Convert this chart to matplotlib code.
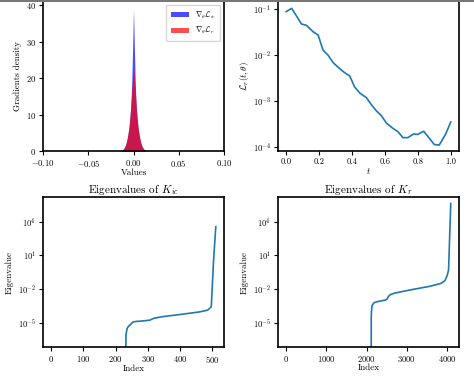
import matplotlib
matplotlib.use('Agg')
import matplotlib.pyplot as plt
import numpy as np
from matplotlib.patches import Rectangle

plt.rcParams['font.family'] = ['cmr10', 'DejaVu Serif']
plt.rcParams['mathtext.fontset'] = 'cm'
plt.rcParams['axes.formatter.use_mathtext'] = True
plt.rcParams['axes.unicode_minus'] = True

# gradient histograms (bin centres + densities)
hist_centers = np.arange(-15, 16) * 0.001
grad_ic = [0.05, 0.1, 0.2, 0.35, 0.6, 1.0, 1.5, 2.3, 3.4, 4.8, 6.5, 9.0, 12.5, 18.0, 28.0,
           39.0,
           28.0, 18.0, 12.5, 9.0, 6.5, 4.8, 3.4, 2.3, 1.5, 1.0, 0.6, 0.35, 0.2, 0.1, 0.05]
grad_r = [0.05, 0.1, 0.2, 0.35, 0.6, 1.0, 1.5, 2.3, 3.4, 4.8, 6.5, 9.0, 12.0, 16.0, 20.0,
          23.0,
          20.0, 16.0, 12.0, 9.0, 6.5, 4.8, 3.4, 2.3, 1.5, 1.0, 0.6, 0.35, 0.2, 0.1, 0.05]

# residual loss over time
t_vals = [0.0, 0.033, 0.063, 0.093, 0.123, 0.164, 0.194, 0.224, 0.255, 0.285, 0.325,
          0.356, 0.386, 0.416, 0.447, 0.487, 0.517, 0.548, 0.578, 0.608, 0.649, 0.679,
          0.709, 0.739, 0.774, 0.80, 0.835, 0.867, 0.90, 0.93, 0.968, 1.0]
loss_log = [-1.06, -0.99, -1.16, -1.33, -1.36, -1.50, -1.57, -1.90, -2.01, -2.17, -2.30,
            -2.39, -2.46, -2.70, -2.83, -2.93, -3.08, -3.22, -3.32, -3.48, -3.60, -3.67,
            -3.80, -3.80, -3.72, -3.73, -3.66, -3.80, -3.95, -3.96, -3.73, -3.46]

# eigenvalue spectra (index, log10 eigenvalue)
ic_idx = [0, 231, 232, 234, 236, 240, 245, 250, 255, 265, 276, 306, 317, 342, 409, 461, 486, 497, 504, 511]
ic_log = [-12, -12, -6.1, -5.75, -5.5, -5.32, -5.2, -5.05, -4.93, -4.89, -4.87, -4.78, -4.63, -4.48,
          -4.24, -4.04, -3.88, -3.59, 0.5, 3.55]
r_idx = [0, 2114, 2116, 2120, 2130, 2141, 2170, 2198, 2300, 2405, 2470, 2504, 2540, 2570, 2640, 2735,
         3148, 3561, 3851, 3950, 3975, 4010, 4040, 4095]
r_log = [-12, -12, -4.6, -4.05, -3.65, -3.45, -3.3, -3.2, -3.1, -3.03, -2.98, -2.91, -2.7, -2.55, -2.43,
         -2.34, -2.04, -1.77, -1.5, -1.25, -1.05, -0.75, -0.3, 5.62]

fig = plt.figure(figsize=(4.74, 3.86), dpi=100)
W, H = 474.0, 386.0

def box(l, t, r, b):
    return [l / W, 1 - b / H, (r - l) / W, (b - t) / H]

ax1 = fig.add_axes(box(43, 1, 224, 151))
ax2 = fig.add_axes(box(278, 1, 459, 151))
ax3 = fig.add_axes(box(43, 197, 224, 347))
ax4 = fig.add_axes(box(278, 197, 459, 347))

fs_tick = 6.1
fs_lab = 6.5
fs_title = 8.0

ax1.fill_between(hist_centers, grad_ic, color='blue', alpha=0.7, lw=0,
                 label=r'$\nabla_\theta \mathcal{L}_{ic}$')
ax1.fill_between(hist_centers, grad_r, color='red', alpha=0.7, lw=0,
                 label=r'$\nabla_\theta \mathcal{L}_{r}$')
ax1.set_xlim(-0.1, 0.1)
ax1.set_ylim(0, 41.1)
ax1.set_xticks([-0.1, -0.05, 0.0, 0.05, 0.1])
ax1.set_xticklabels(['$-0.10$', '$-0.05$', '$0.00$', '$0.05$', '$0.10$'])
ax1.set_yticks([0, 10, 20, 30, 40])
ax1.set_xlabel('Values', fontsize=fs_lab, labelpad=-0.5)
ax1.set_ylabel('Gradients density', fontsize=fs_lab, labelpad=3)
ax1.legend(loc='upper right', fontsize=5.4, handlelength=2.4, borderpad=0.6,
           labelspacing=0.6, fancybox=True, framealpha=0.8)

ax2.semilogy(t_vals, 10 ** np.array(loss_log), color='#1f77b4', lw=1.2)
ax2.set_xlim(-0.05, 1.05)
ax2.set_ylim(10 ** -4.09, 10 ** -0.83)
ax2.set_xticks([0.0, 0.2, 0.4, 0.6, 0.8, 1.0])
ax2.set_xticklabels(['0.0', '0.2', '0.4', '0.6', '0.8', '1.0'])
ax2.set_xlabel('$t$', fontsize=fs_lab, labelpad=0)
ax2.set_ylabel(r'$\mathcal{L}_r(t,\theta)$', fontsize=fs_lab, labelpad=1)

ax3.semilogy(ic_idx, 10 ** np.array(ic_log, dtype=float), color='#1f77b4', lw=1.2)
ax3.set_xlim(-25.5, 536.5)
ax3.set_ylim(10 ** -7.17, 10 ** 6.2)
ax3.set_yticks([1e-5, 1e-2, 1e1, 1e4])
ax3.set_xticks([0, 100, 200, 300, 400, 500])
ax3.set_title('Eigenvalues of $K_{ic}$', fontsize=fs_title, pad=3)
ax3.set_xlabel('Index', fontsize=fs_lab, labelpad=-0.5)
ax3.set_ylabel('Eigenvalue', fontsize=fs_lab, labelpad=3)

ax4.semilogy(r_idx, 10 ** np.array(r_log, dtype=float), color='#1f77b4', lw=1.2)
ax4.set_xlim(-205, 4300)
ax4.set_ylim(10 ** -7.17, 10 ** 6.2)
ax4.set_yticks([1e-5, 1e-2, 1e1, 1e4])
ax4.set_xticks([0, 1000, 2000, 3000, 4000])
ax4.set_title('Eigenvalues of $K_r$', fontsize=fs_title, pad=3)
ax4.set_xlabel('Index', fontsize=fs_lab, labelpad=-0.5)
ax4.set_ylabel('Eigenvalue', fontsize=fs_lab, labelpad=3)

for ax in (ax1, ax2, ax3, ax4):
    ax.tick_params(labelsize=fs_tick, length=3, width=0.8, pad=2)
    ax.tick_params(which='minor', length=0)
    for s in ax.spines.values():
        s.set_linewidth(1.2)

# grey strip along the cropped top edge
fig.add_artist(Rectangle((0, 1 - 2 / H), 1, 2 / H, transform=fig.transFigure,
                         color='#777777', lw=0))

fig.savefig('out.png', dpi=100)
